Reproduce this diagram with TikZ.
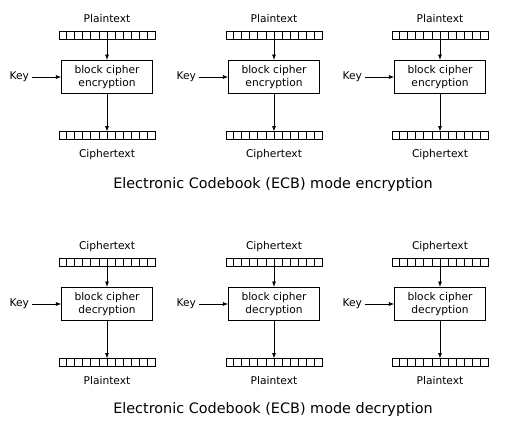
\documentclass[tikz,border=0pt]{standalone}
\usepackage{fontspec}
\setmainfont{DejaVu Sans}
\usetikzlibrary{arrows.meta,positioning,calc}
\tikzset{
  CB/.style={rectangle,draw,line width=0.6pt,
             minimum width=68pt,minimum height=25pt,
             align=center,inner sep=0pt,
             font=\fontsize{8}{9.5}\selectfont},
  BL/.style={rectangle,draw,line width=0.6pt,
             minimum width=72pt,minimum height=6pt,inner sep=0pt},
  LB/.style={inner sep=0pt,text height=6pt,text depth=1.7pt,
             font=\fontsize{8}{9.5}\selectfont},
  TT/.style={inner sep=0pt,font=\fontsize{10.8}{13}\selectfont},
  cell/.style={line width=0.6pt},
  arr/.style={-{Latex[length=4pt,width=3pt]},line width=0.6pt}
}

\begin{document}
\begin{tikzpicture}[x=0.75pt,y=-0.75pt]
  \useasboundingbox (0,0) rectangle (512,424);

  \foreach \r/\dy/\tin/\tout/\op in {enc/0/Plaintext/Ciphertext/encryption,dec/227/Ciphertext/Plaintext/decryption}{
    \foreach \c/\dx in {1/0,2/167,3/333}{
      \node[CB] (box\r\c) at (107+\dx,77+\dy) {block cipher\\\op};
      \node[BL,above=15pt of box\r\c] (in\r\c) {};
      \node[BL,below=28pt of box\r\c] (out\r\c) {};
      \node[LB,above=4.3pt of in\r\c] (tin\r\c) {\tin};
      \node[LB,below=6.8pt of out\r\c] (tout\r\c) {\tout};
      \node[LB,inner sep=2pt,left=22pt of box\r\c] (key\r\c) {Key};

      \foreach \k in {1,...,11}{
        \draw[cell] ($(in\r\c.north west)!\k/12!(in\r\c.north east)$) -- ($(in\r\c.south west)!\k/12!(in\r\c.south east)$);
        \draw[cell] ($(out\r\c.north west)!\k/12!(out\r\c.north east)$) -- ($(out\r\c.south west)!\k/12!(out\r\c.south east)$);
      }

      \draw[arr](in\r\c)--(box\r\c);
      \draw[arr](box\r\c)--(out\r\c);
      \draw[arr](key\r\c)--(box\r\c);
    }
  }

  \node[TT] (enctitle) at (273,185) {Electronic Codebook (ECB) mode encryption};
  \node[TT] (dectitle) at (273,410) {Electronic Codebook (ECB) mode decryption};
\end{tikzpicture}
\end{document}
